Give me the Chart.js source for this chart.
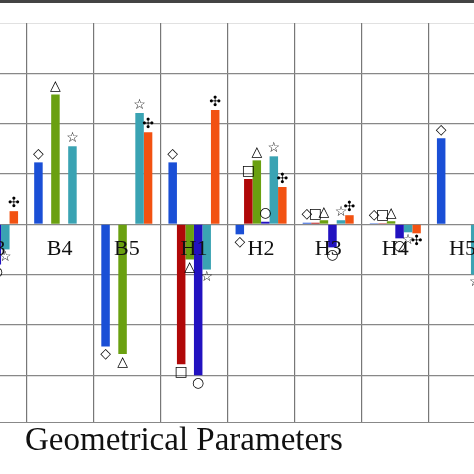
<!DOCTYPE html>
<html><head><meta charset="utf-8">
<script src="https://cdn.jsdelivr.net/npm/chart.js@4"></script>
<style>
html,body{margin:0;padding:0;background:#fff;overflow:hidden;width:474px;height:474px}
#top{position:absolute;left:0;top:0;width:474px;height:3px;background:#444}
#wrap{position:absolute;left:-41px;top:23px;width:537px;height:400px}
#title{position:absolute;left:25px;top:421px;font-family:"Liberation Serif",serif;font-size:33px;color:#111;white-space:nowrap}
</style></head><body>
<div id="top"></div>
<div id="wrap"><canvas id="c"></canvas></div>
<div id="title">Geometrical Parameters</div>
<script>
const categories=["B3","B4","B5","H1","H2","H3","H4","H5"];
const seriesNames=["S1","S2","S3","S4","S5","S6"];
const blueVals  =[0.0,1.23,-2.43,1.23,-0.2,0.03,0.02,1.71];
const redVals   =[0.0,0,0,-2.78,0.9,0.03,0.02,0];
const greenVals =[0.0,2.58,-2.58,-0.7,1.27,0.08,0.06,0];
const navyVals  =[-0.8,0,0,-3.0,0.05,-0.46,-0.28,0];
const tealVals  =[-0.5,1.55,2.21,-0.9,1.35,0.08,-0.16,-1.0];
const orangeVals=[0.26,0,1.83,2.27,0.74,0.18,-0.18,0];
const colors=["#1a4fd6","#b00808","#6aa010","#2212c0","#3aa3b3","#f25212"];
const markers=["◇","□","△","○","☆","✣"];
const all=[blueVals,redVals,greenVals,navyVals,tealVals,orangeVals];
const markPlugin={id:'mk',afterDatasetsDraw(ch){
  const ctx=ch.ctx;ctx.save();
  ctx.fillStyle="#000";ctx.textAlign="center";
  ch.data.datasets.forEach((ds,i)=>{
    ch.getDatasetMeta(i).data.forEach((el,j)=>{
      const v=ds.data[j]; if(!v) return;
      ctx.font="bold 14px 'DejaVu Sans'";
      ctx.textBaseline=v>0?"bottom":"top";
      ctx.fillText(markers[i],el.x,v>0?el.y-1:el.y+1);
    });
  });
  const y0=ch.scales.y.getPixelForValue(0);
  ctx.font="22px 'Liberation Serif'";ctx.textBaseline="middle";ctx.fillStyle="#111";
  categories.forEach((c,j)=>{ctx.fillText(c,ch.scales.x.getPixelForValue(j),y0+25);});
  ctx.restore();
}};
new Chart(document.getElementById('c'),{
  type:'bar',
  data:{labels:categories,datasets:all.map((d,i)=>({label:seriesNames[i],data:d,backgroundColor:colors[i],categoryPercentage:0.76,barPercentage:1}))},
  options:{responsive:true,maintainAspectRatio:false,animation:false,
    layout:{padding:0},
    plugins:{legend:{display:false},tooltip:{enabled:false}},
    scales:{
      x:{offset:true,grid:{offset:true,color:"#777",lineWidth:1.2,drawTicks:false},border:{display:false},ticks:{display:false},afterFit(s){s.height=0;}},
      y:{min:-3.95,max:4,ticks:{stepSize:1,display:false},grid:{color:"#888",lineWidth:1.2,drawTicks:false},border:{display:false},afterFit(s){s.width=0;}}
    }},
  plugins:[markPlugin]
});
</script></body></html>
